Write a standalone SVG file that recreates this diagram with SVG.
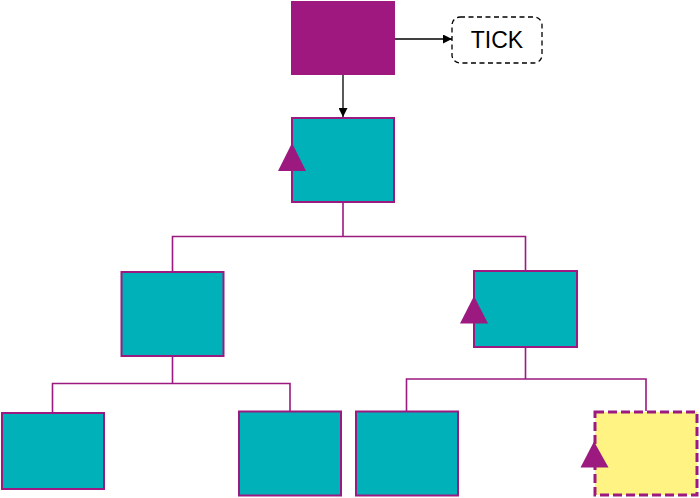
<svg xmlns="http://www.w3.org/2000/svg" width="700" height="498" viewBox="0 0 700 498">
<style>
.n{fill:#00b1b9;stroke:#9c1a80;stroke-width:2}
.c{fill:none;stroke:#9c1a80;stroke-width:1.6}
.a{fill:none;stroke:#000;stroke-width:1.3}
.t{fill:#9c1a80}
</style>
<defs>
<marker id="ah" viewBox="0 0 10 10" refX="10" refY="5" markerWidth="9" markerHeight="9" markerUnits="userSpaceOnUse" orient="auto">
<path d="M0,0L10,5L0,10z" fill="#000"/>
</marker>
</defs>
<rect width="700" height="498" fill="#fff"/>
<g id="connectors">
<line class="a" x1="343" y1="75" x2="343" y2="117" marker-end="url(#ah)"/>
<line class="a" x1="395" y1="39" x2="452" y2="39" marker-end="url(#ah)"/>
<path class="c" d="M343,202V236.5M172.5,272V236.5H525.5V271"/>
<path class="c" d="M172.5,356V383.5M52.5,413V383.5H290V411"/>
<path class="c" d="M525.5,347V379M406.5,411V379H646V411"/>
</g>
<g id="root"><rect x="291" y="1" width="104" height="74" fill="#9e1880"/></g>
<g id="tick">
<rect x="452" y="17" width="90" height="46" rx="8" fill="#fff" stroke="#000" stroke-width="1.3" stroke-dasharray="5 3.5"/>
<text x="497" y="47.5" font-family="Liberation Sans, Arial, sans-serif" font-size="23" text-anchor="middle" fill="#000">TICK</text>
</g>
<g id="n1"><rect class="n" x="292" y="118" width="102" height="84"/><path class="t" d="M292,143L306,171H278z"/></g>
<g id="n2"><rect class="n" x="121.5" y="272" width="102" height="84"/></g>
<g id="n3"><rect class="n" x="474" y="271" width="103" height="76"/><path class="t" d="M474,296L488,323.5H460z"/></g>
<g id="n4"><rect class="n" x="2" y="413" width="102" height="76"/></g>
<g id="n5"><rect class="n" x="239" y="411.5" width="102" height="84"/></g>
<g id="n6"><rect class="n" x="356" y="411.5" width="102" height="84"/></g>
<g id="n7"><rect x="595" y="412" width="102" height="83" fill="#fff383" stroke="#9c1a80" stroke-width="3" stroke-dasharray="9 4"/><path class="t" d="M594,441.5L608.5,467.5H580.5z"/></g>
</svg>
